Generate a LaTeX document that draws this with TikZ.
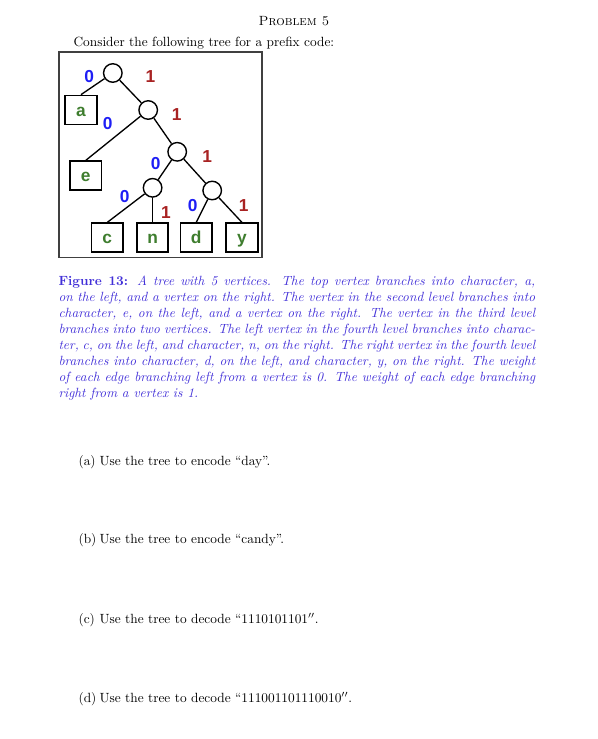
\documentclass[tikz,border=0pt]{standalone}
\usepackage{fontspec}
\usepackage{amsmath}
\usepackage{tikz}
\usetikzlibrary{positioning}
\newfontfamily\arialfont{Liberation Sans}
\definecolor{bitblue}{HTML}{1E1EF5}
\definecolor{bitred}{HTML}{A82222}
\definecolor{leafgreen}{HTML}{3E7D2E}
\definecolor{captionblue}{HTML}{4230D8}
\tikzstyle{vertex} = [draw, circle, line width=1.05pt, minimum size=13.9pt, inner sep=0pt]
\tikzstyle{leaf} = [draw, line width=1.3pt, minimum width=23.6pt, minimum height=21.75pt,
  inner sep=0pt, text height=9.6pt, text depth=0.6pt, text=leafgreen,
  font=\arialfont\bfseries\fontsize{13}{15}\selectfont]
\tikzstyle{bit} = [inner sep=0pt, font=\arialfont\bfseries\fontsize{13}{15}\selectfont]
\tikzstyle{zero} = [bit, text=bitblue]
\tikzstyle{one} = [bit, text=bitred]
\tikzstyle{edge} = [line width=1pt]

\begin{document}
\begin{tikzpicture}[x=0.75pt, y=-0.75pt, every node/.style={font=\normalsize}]
    \useasboundingbox (0,0) rectangle (597,739);
    \node[anchor=base east, inner sep=0pt] (title) at (329.5,25) {\textsc{Problem 5}};
    \node[anchor=base west, inner sep=0pt] (intro) at (73.3,46.7)
        {Consider the following tree for a prefix code:};
    \draw[black!75, line width=1pt] (59,52) rectangle (262,257.5);
    \node[vertex] (root) at (112.8,73) {};
    \node[vertex] (v2) at (148.2,110) {};
    \node[vertex] (v3) at (177.2,151.8) {};
    \node[vertex] (v4l) at (152.6,187.8) {};
    \node[vertex] (v4r) at (212.2,190.5) {};
    \node[leaf] (a) at (81,110) {a};
    \node[leaf] (e) at (85.8,175.7) {e};
    \node[leaf] (c) at (107.2,237.8) {c};
    \node[leaf] (n) at (152.6,237.8) {n};
    \node[leaf] (d) at (196.2,237.8) {d};
    \node[leaf] (y) at (242,237.8) {y};
    \draw[edge] (root) -- (a.north);
    \draw[edge] (root) -- (v2);
    \draw[edge] (v2) -- (e.north);
    \draw[edge] (v2) -- (v3);
    \draw[edge] (v3) -- (v4l);
    \draw[edge] (v3) -- (v4r);
    \draw[edge] (v4l) -- (c.north);
    \draw[edge] (v4l) -- (n.north);
    \draw[edge] (v4r) -- (d.north);
    \draw[edge] (v4r) -- (y.north);
    \node[zero] (bit-a) at (89.3,76.7) {0};
    \node[one] (bit-v2) at (150.5,76.7) {1};
    \node[zero] (bit-e) at (107.7,123.5) {0};
    \node[one] (bit-v3) at (176.7,115) {1};
    \node[zero] (bit-v4l) at (155.7,163.3) {0};
    \node[one] (bit-v4r) at (207.3,156.7) {1};
    \node[zero] (bit-c) at (124.7,196.3) {0};
    \node[one] (bit-n) at (166,212.3) {1};
    \node[zero] (bit-d) at (192.7,206) {0};
    \node[one] (bit-y) at (243.7,206) {1};
    \node[anchor=base west, inner sep=0pt, text width=357.5pt, align=justify,
        text=captionblue, font=\itshape] (caption) at (58.3,285)
        {{\upshape\bfseries Figure 13:} A tree with 5 vertices. The top vertex branches into character, a,\linebreak
        on the left, and a vertex on the right. The vertex in the second level branches into\linebreak
        character, e, on the left, and a vertex on the right. The vertex in the third level\linebreak
        branches into two vertices. The left vertex in the fourth level branches into charac-\linebreak
        ter, c, on the left, and character, n, on the right. The right vertex in the fourth level\linebreak
        branches into character, d, on the left, and character, y, on the right. The weight\linebreak
        of each edge branching left from a vertex is 0. The weight of each edge branching\linebreak
        right from a vertex is 1.};
    \foreach \lbl/\yy/\txt in {a/465/{Use the tree to encode ``day''.},
        b/543.3/{Use the tree to encode ``candy''.},
        c/623.3/{Use the tree to decode ``1110101101$''$.},
        d/702.3/{Use the tree to decode ``111001101110010$''$.}} {
        \node[anchor=base west, inner sep=0pt] (label-\lbl) at (78.3,\yy) {(\lbl)};
        \node[anchor=base west, inner sep=0pt] (item-\lbl) at (99.3,\yy) {\txt};
    }
\end{tikzpicture}
\end{document}
